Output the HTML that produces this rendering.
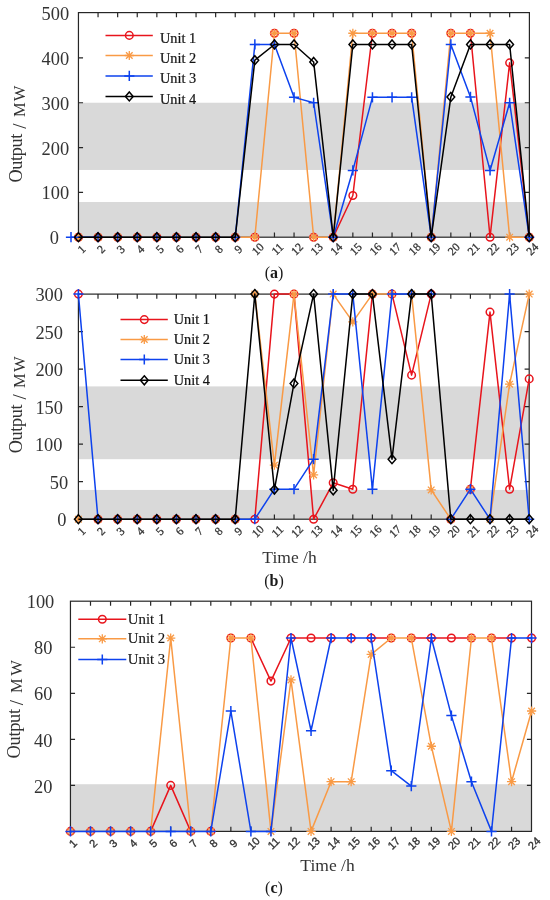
<!DOCTYPE html>
<html><head><meta charset="utf-8"><title>Unit output</title>
<style>
html,body{margin:0;padding:0;background:#fff;}
body{width:550px;height:900px;overflow:hidden;}
svg{display:block;font-family:'Liberation Serif', 'Times New Roman', serif;}
</style></head>
<body>
<svg width="550" height="900" viewBox="0 0 550 900">
<rect width="550" height="900" fill="#fff"/>
<rect x="78.45" y="102.74" width="450.95" height="67.23" fill="#d9d9d9"/>
<rect x="78.45" y="202.02" width="450.95" height="35.18" fill="#d9d9d9"/>
<path d="M98.05 237.2v-4.6M98.05 12.6v4.6M117.65 237.2v-4.6M117.65 12.6v4.6M137.25 237.2v-4.6M137.25 12.6v4.6M156.85 237.2v-4.6M156.85 12.6v4.6M176.45 237.2v-4.6M176.45 12.6v4.6M196.05 237.2v-4.6M196.05 12.6v4.6M215.65 237.2v-4.6M215.65 12.6v4.6M235.25 237.2v-4.6M235.25 12.6v4.6M254.85 237.2v-4.6M254.85 12.6v4.6M274.45 237.2v-4.6M274.45 12.6v4.6M294.05 237.2v-4.6M294.05 12.6v4.6M313.65 237.2v-4.6M313.65 12.6v4.6M333.25 237.2v-4.6M333.25 12.6v4.6M352.85 237.2v-4.6M352.85 12.6v4.6M372.45 237.2v-4.6M372.45 12.6v4.6M392.05 237.2v-4.6M392.05 12.6v4.6M411.65 237.2v-4.6M411.65 12.6v4.6M431.25 237.2v-4.6M431.25 12.6v4.6M450.85 237.2v-4.6M450.85 12.6v4.6M470.45 237.2v-4.6M470.45 12.6v4.6M490.05 237.2v-4.6M490.05 12.6v4.6M509.65 237.2v-4.6M509.65 12.6v4.6M78.45 192.38h4.6M529.4 192.38h-4.6M78.45 147.56h4.6M529.4 147.56h-4.6M78.45 102.74h4.6M529.4 102.74h-4.6M78.45 57.92h4.6M529.4 57.92h-4.6" stroke="#262626" stroke-width="1.2" fill="none"/>
<rect x="78.45" y="12.6" width="450.95" height="224.6" fill="none" stroke="#262626" stroke-width="1.2"/>
<path d="M333.25 237.2L352.85 195.52L372.45 33.27M470.45 33.27L490.05 237.2L509.65 62.85L529.25 237.2" fill="none" stroke="#e8141c" stroke-width="1.5" stroke-linejoin="round"/>
<circle cx="78.45" cy="237.2" r="3.8" fill="none" stroke="#e8141c" stroke-width="1.5"/><circle cx="98.05" cy="237.2" r="3.8" fill="none" stroke="#e8141c" stroke-width="1.5"/><circle cx="117.65" cy="237.2" r="3.8" fill="none" stroke="#e8141c" stroke-width="1.5"/><circle cx="137.25" cy="237.2" r="3.8" fill="none" stroke="#e8141c" stroke-width="1.5"/><circle cx="156.85" cy="237.2" r="3.8" fill="none" stroke="#e8141c" stroke-width="1.5"/><circle cx="176.45" cy="237.2" r="3.8" fill="none" stroke="#e8141c" stroke-width="1.5"/><circle cx="196.05" cy="237.2" r="3.8" fill="none" stroke="#e8141c" stroke-width="1.5"/><circle cx="215.65" cy="237.2" r="3.8" fill="none" stroke="#e8141c" stroke-width="1.5"/><circle cx="235.25" cy="237.2" r="3.8" fill="none" stroke="#e8141c" stroke-width="1.5"/><circle cx="254.85" cy="237.2" r="3.8" fill="none" stroke="#e8141c" stroke-width="1.5"/><circle cx="274.45" cy="33.27" r="3.8" fill="none" stroke="#e8141c" stroke-width="1.5"/><circle cx="294.05" cy="33.27" r="3.8" fill="none" stroke="#e8141c" stroke-width="1.5"/><circle cx="313.65" cy="237.2" r="3.8" fill="none" stroke="#e8141c" stroke-width="1.5"/><circle cx="333.25" cy="237.2" r="3.8" fill="none" stroke="#e8141c" stroke-width="1.5"/><circle cx="352.85" cy="195.52" r="3.8" fill="none" stroke="#e8141c" stroke-width="1.5"/><circle cx="372.45" cy="33.27" r="3.8" fill="none" stroke="#e8141c" stroke-width="1.5"/><circle cx="392.05" cy="33.27" r="3.8" fill="none" stroke="#e8141c" stroke-width="1.5"/><circle cx="411.65" cy="33.27" r="3.8" fill="none" stroke="#e8141c" stroke-width="1.5"/><circle cx="431.25" cy="237.2" r="3.8" fill="none" stroke="#e8141c" stroke-width="1.5"/><circle cx="450.85" cy="33.27" r="3.8" fill="none" stroke="#e8141c" stroke-width="1.5"/><circle cx="470.45" cy="33.27" r="3.8" fill="none" stroke="#e8141c" stroke-width="1.5"/><circle cx="490.05" cy="237.2" r="3.8" fill="none" stroke="#e8141c" stroke-width="1.5"/><circle cx="509.65" cy="62.85" r="3.8" fill="none" stroke="#e8141c" stroke-width="1.5"/><circle cx="529.25" cy="237.2" r="3.8" fill="none" stroke="#e8141c" stroke-width="1.5"/>
<path d="M235.25 237.2L254.85 237.2L274.45 33.27L294.05 33.27L313.65 237.2L333.25 237.2L352.85 33.27L372.45 33.27L392.05 33.27L411.65 33.27L431.25 237.2L450.85 33.27L470.45 33.27L490.05 33.27L509.65 237.2L529.25 237.2" fill="none" stroke="#f99a45" stroke-width="1.5" stroke-linejoin="round"/>
<path d="M78.45 232.6v9.2M73.85 237.2h9.2M75.15 233.9l6.6 6.6M75.15 240.5l6.6 -6.6" stroke="#f99a45" stroke-width="1.3" fill="none"/><path d="M98.05 232.6v9.2M93.45 237.2h9.2M94.75 233.9l6.6 6.6M94.75 240.5l6.6 -6.6" stroke="#f99a45" stroke-width="1.3" fill="none"/><path d="M117.65 232.6v9.2M113.05 237.2h9.2M114.35 233.9l6.6 6.6M114.35 240.5l6.6 -6.6" stroke="#f99a45" stroke-width="1.3" fill="none"/><path d="M137.25 232.6v9.2M132.65 237.2h9.2M133.95 233.9l6.6 6.6M133.95 240.5l6.6 -6.6" stroke="#f99a45" stroke-width="1.3" fill="none"/><path d="M156.85 232.6v9.2M152.25 237.2h9.2M153.55 233.9l6.6 6.6M153.55 240.5l6.6 -6.6" stroke="#f99a45" stroke-width="1.3" fill="none"/><path d="M176.45 232.6v9.2M171.85 237.2h9.2M173.15 233.9l6.6 6.6M173.15 240.5l6.6 -6.6" stroke="#f99a45" stroke-width="1.3" fill="none"/><path d="M196.05 232.6v9.2M191.45 237.2h9.2M192.75 233.9l6.6 6.6M192.75 240.5l6.6 -6.6" stroke="#f99a45" stroke-width="1.3" fill="none"/><path d="M215.65 232.6v9.2M211.05 237.2h9.2M212.35 233.9l6.6 6.6M212.35 240.5l6.6 -6.6" stroke="#f99a45" stroke-width="1.3" fill="none"/><path d="M235.25 232.6v9.2M230.65 237.2h9.2M231.95 233.9l6.6 6.6M231.95 240.5l6.6 -6.6" stroke="#f99a45" stroke-width="1.3" fill="none"/><path d="M254.85 232.6v9.2M250.25 237.2h9.2M251.55 233.9l6.6 6.6M251.55 240.5l6.6 -6.6" stroke="#f99a45" stroke-width="1.3" fill="none"/><path d="M274.45 28.67v9.2M269.85 33.27h9.2M271.15 29.97l6.6 6.6M271.15 36.57l6.6 -6.6" stroke="#f99a45" stroke-width="1.3" fill="none"/><path d="M294.05 28.67v9.2M289.45 33.27h9.2M290.75 29.97l6.6 6.6M290.75 36.57l6.6 -6.6" stroke="#f99a45" stroke-width="1.3" fill="none"/><path d="M313.65 232.6v9.2M309.05 237.2h9.2M310.35 233.9l6.6 6.6M310.35 240.5l6.6 -6.6" stroke="#f99a45" stroke-width="1.3" fill="none"/><path d="M333.25 232.6v9.2M328.65 237.2h9.2M329.95 233.9l6.6 6.6M329.95 240.5l6.6 -6.6" stroke="#f99a45" stroke-width="1.3" fill="none"/><path d="M352.85 28.67v9.2M348.25 33.27h9.2M349.55 29.97l6.6 6.6M349.55 36.57l6.6 -6.6" stroke="#f99a45" stroke-width="1.3" fill="none"/><path d="M372.45 28.67v9.2M367.85 33.27h9.2M369.15 29.97l6.6 6.6M369.15 36.57l6.6 -6.6" stroke="#f99a45" stroke-width="1.3" fill="none"/><path d="M392.05 28.67v9.2M387.45 33.27h9.2M388.75 29.97l6.6 6.6M388.75 36.57l6.6 -6.6" stroke="#f99a45" stroke-width="1.3" fill="none"/><path d="M411.65 28.67v9.2M407.05 33.27h9.2M408.35 29.97l6.6 6.6M408.35 36.57l6.6 -6.6" stroke="#f99a45" stroke-width="1.3" fill="none"/><path d="M431.25 232.6v9.2M426.65 237.2h9.2M427.95 233.9l6.6 6.6M427.95 240.5l6.6 -6.6" stroke="#f99a45" stroke-width="1.3" fill="none"/><path d="M450.85 28.67v9.2M446.25 33.27h9.2M447.55 29.97l6.6 6.6M447.55 36.57l6.6 -6.6" stroke="#f99a45" stroke-width="1.3" fill="none"/><path d="M470.45 28.67v9.2M465.85 33.27h9.2M467.15 29.97l6.6 6.6M467.15 36.57l6.6 -6.6" stroke="#f99a45" stroke-width="1.3" fill="none"/><path d="M490.05 28.67v9.2M485.45 33.27h9.2M486.75 29.97l6.6 6.6M486.75 36.57l6.6 -6.6" stroke="#f99a45" stroke-width="1.3" fill="none"/><path d="M509.65 232.6v9.2M505.05 237.2h9.2M506.35 233.9l6.6 6.6M506.35 240.5l6.6 -6.6" stroke="#f99a45" stroke-width="1.3" fill="none"/><path d="M529.25 232.6v9.2M524.65 237.2h9.2M525.95 233.9l6.6 6.6M525.95 240.5l6.6 -6.6" stroke="#f99a45" stroke-width="1.3" fill="none"/>
<path d="M71 237.2L98.05 237.2M235.25 237.2L254.85 44.47L274.45 44.47L294.05 97.36L313.65 102.74L333.25 237.2L352.85 170.42L372.45 97.36L392.05 97.36L411.65 97.36L431.25 237.2L450.85 44.47L470.45 96.91L490.05 170.42L509.65 102.74L529.25 237.2" fill="none" stroke="#0d42ee" stroke-width="1.5" stroke-linejoin="round"/>
<path d="M65.9 237.2h10.2M71 232.1v10.2" stroke="#0d42ee" stroke-width="1.5" fill="none"/><path d="M92.95 237.2h10.2M98.05 232.1v10.2" stroke="#0d42ee" stroke-width="1.5" fill="none"/><path d="M112.55 237.2h10.2M117.65 232.1v10.2" stroke="#0d42ee" stroke-width="1.5" fill="none"/><path d="M132.15 237.2h10.2M137.25 232.1v10.2" stroke="#0d42ee" stroke-width="1.5" fill="none"/><path d="M151.75 237.2h10.2M156.85 232.1v10.2" stroke="#0d42ee" stroke-width="1.5" fill="none"/><path d="M171.35 237.2h10.2M176.45 232.1v10.2" stroke="#0d42ee" stroke-width="1.5" fill="none"/><path d="M190.95 237.2h10.2M196.05 232.1v10.2" stroke="#0d42ee" stroke-width="1.5" fill="none"/><path d="M210.55 237.2h10.2M215.65 232.1v10.2" stroke="#0d42ee" stroke-width="1.5" fill="none"/><path d="M230.15 237.2h10.2M235.25 232.1v10.2" stroke="#0d42ee" stroke-width="1.5" fill="none"/><path d="M249.75 44.47h10.2M254.85 39.37v10.2" stroke="#0d42ee" stroke-width="1.5" fill="none"/><path d="M269.35 44.47h10.2M274.45 39.37v10.2" stroke="#0d42ee" stroke-width="1.5" fill="none"/><path d="M288.95 97.36h10.2M294.05 92.26v10.2" stroke="#0d42ee" stroke-width="1.5" fill="none"/><path d="M308.55 102.74h10.2M313.65 97.64v10.2" stroke="#0d42ee" stroke-width="1.5" fill="none"/><path d="M328.15 237.2h10.2M333.25 232.1v10.2" stroke="#0d42ee" stroke-width="1.5" fill="none"/><path d="M347.75 170.42h10.2M352.85 165.32v10.2" stroke="#0d42ee" stroke-width="1.5" fill="none"/><path d="M367.35 97.36h10.2M372.45 92.26v10.2" stroke="#0d42ee" stroke-width="1.5" fill="none"/><path d="M386.95 97.36h10.2M392.05 92.26v10.2" stroke="#0d42ee" stroke-width="1.5" fill="none"/><path d="M406.55 97.36h10.2M411.65 92.26v10.2" stroke="#0d42ee" stroke-width="1.5" fill="none"/><path d="M426.15 237.2h10.2M431.25 232.1v10.2" stroke="#0d42ee" stroke-width="1.5" fill="none"/><path d="M445.75 44.47h10.2M450.85 39.37v10.2" stroke="#0d42ee" stroke-width="1.5" fill="none"/><path d="M465.35 96.91h10.2M470.45 91.81v10.2" stroke="#0d42ee" stroke-width="1.5" fill="none"/><path d="M484.95 170.42h10.2M490.05 165.32v10.2" stroke="#0d42ee" stroke-width="1.5" fill="none"/><path d="M504.55 102.74h10.2M509.65 97.64v10.2" stroke="#0d42ee" stroke-width="1.5" fill="none"/><path d="M524.15 237.2h10.2M529.25 232.1v10.2" stroke="#0d42ee" stroke-width="1.5" fill="none"/>
<path d="M78.45 237.2L98.05 237.2L117.65 237.2L137.25 237.2L156.85 237.2L176.45 237.2L196.05 237.2L215.65 237.2L235.25 237.2L254.85 60.16L274.45 44.47L294.05 44.47L313.65 61.95L333.25 237.2L352.85 44.47L372.45 44.47L392.05 44.47L411.65 44.47L431.25 237.2L450.85 96.91L470.45 44.47L490.05 44.47L509.65 44.47L529.25 237.2" fill="none" stroke="#000000" stroke-width="1.5" stroke-linejoin="round"/>
<path d="M78.45 232.7L82.3 237.2L78.45 241.7L74.6 237.2Z" fill="none" stroke="#000000" stroke-width="1.5" stroke-linejoin="miter"/><path d="M98.05 232.7L101.9 237.2L98.05 241.7L94.2 237.2Z" fill="none" stroke="#000000" stroke-width="1.5" stroke-linejoin="miter"/><path d="M117.65 232.7L121.5 237.2L117.65 241.7L113.8 237.2Z" fill="none" stroke="#000000" stroke-width="1.5" stroke-linejoin="miter"/><path d="M137.25 232.7L141.1 237.2L137.25 241.7L133.4 237.2Z" fill="none" stroke="#000000" stroke-width="1.5" stroke-linejoin="miter"/><path d="M156.85 232.7L160.7 237.2L156.85 241.7L153 237.2Z" fill="none" stroke="#000000" stroke-width="1.5" stroke-linejoin="miter"/><path d="M176.45 232.7L180.3 237.2L176.45 241.7L172.6 237.2Z" fill="none" stroke="#000000" stroke-width="1.5" stroke-linejoin="miter"/><path d="M196.05 232.7L199.9 237.2L196.05 241.7L192.2 237.2Z" fill="none" stroke="#000000" stroke-width="1.5" stroke-linejoin="miter"/><path d="M215.65 232.7L219.5 237.2L215.65 241.7L211.8 237.2Z" fill="none" stroke="#000000" stroke-width="1.5" stroke-linejoin="miter"/><path d="M235.25 232.7L239.1 237.2L235.25 241.7L231.4 237.2Z" fill="none" stroke="#000000" stroke-width="1.5" stroke-linejoin="miter"/><path d="M254.85 55.66L258.7 60.16L254.85 64.66L251 60.16Z" fill="none" stroke="#000000" stroke-width="1.5" stroke-linejoin="miter"/><path d="M274.45 39.97L278.3 44.47L274.45 48.97L270.6 44.47Z" fill="none" stroke="#000000" stroke-width="1.5" stroke-linejoin="miter"/><path d="M294.05 39.97L297.9 44.47L294.05 48.97L290.2 44.47Z" fill="none" stroke="#000000" stroke-width="1.5" stroke-linejoin="miter"/><path d="M313.65 57.45L317.5 61.95L313.65 66.45L309.8 61.95Z" fill="none" stroke="#000000" stroke-width="1.5" stroke-linejoin="miter"/><path d="M333.25 232.7L337.1 237.2L333.25 241.7L329.4 237.2Z" fill="none" stroke="#000000" stroke-width="1.5" stroke-linejoin="miter"/><path d="M352.85 39.97L356.7 44.47L352.85 48.97L349 44.47Z" fill="none" stroke="#000000" stroke-width="1.5" stroke-linejoin="miter"/><path d="M372.45 39.97L376.3 44.47L372.45 48.97L368.6 44.47Z" fill="none" stroke="#000000" stroke-width="1.5" stroke-linejoin="miter"/><path d="M392.05 39.97L395.9 44.47L392.05 48.97L388.2 44.47Z" fill="none" stroke="#000000" stroke-width="1.5" stroke-linejoin="miter"/><path d="M411.65 39.97L415.5 44.47L411.65 48.97L407.8 44.47Z" fill="none" stroke="#000000" stroke-width="1.5" stroke-linejoin="miter"/><path d="M431.25 232.7L435.1 237.2L431.25 241.7L427.4 237.2Z" fill="none" stroke="#000000" stroke-width="1.5" stroke-linejoin="miter"/><path d="M450.85 92.41L454.7 96.91L450.85 101.41L447 96.91Z" fill="none" stroke="#000000" stroke-width="1.5" stroke-linejoin="miter"/><path d="M470.45 39.97L474.3 44.47L470.45 48.97L466.6 44.47Z" fill="none" stroke="#000000" stroke-width="1.5" stroke-linejoin="miter"/><path d="M490.05 39.97L493.9 44.47L490.05 48.97L486.2 44.47Z" fill="none" stroke="#000000" stroke-width="1.5" stroke-linejoin="miter"/><path d="M509.65 39.97L513.5 44.47L509.65 48.97L505.8 44.47Z" fill="none" stroke="#000000" stroke-width="1.5" stroke-linejoin="miter"/><path d="M529.25 232.7L533.1 237.2L529.25 241.7L525.4 237.2Z" fill="none" stroke="#000000" stroke-width="1.5" stroke-linejoin="miter"/>
<text x="58.9" y="244.2" text-anchor="end" font-size="18.4" fill="#333333">0</text>
<text x="69.2" y="199.38" text-anchor="end" font-size="18.4" fill="#333333">100</text>
<text x="69.2" y="154.56" text-anchor="end" font-size="18.4" fill="#333333">200</text>
<text x="69.2" y="109.74" text-anchor="end" font-size="18.4" fill="#333333">300</text>
<text x="69.2" y="64.92" text-anchor="end" font-size="18.4" fill="#333333">400</text>
<text x="69.2" y="20.1" text-anchor="end" font-size="18.4" fill="#333333">500</text>
<text transform="translate(81.75 249.4) rotate(-45)" text-anchor="middle" dominant-baseline="central" font-size="11.6" fill="#333333" stroke="#333333" stroke-width="0.3">1</text>
<text transform="translate(101.35 249.4) rotate(-45)" text-anchor="middle" dominant-baseline="central" font-size="11.6" fill="#333333" stroke="#333333" stroke-width="0.3">2</text>
<text transform="translate(120.95 249.4) rotate(-45)" text-anchor="middle" dominant-baseline="central" font-size="11.6" fill="#333333" stroke="#333333" stroke-width="0.3">3</text>
<text transform="translate(140.55 249.4) rotate(-45)" text-anchor="middle" dominant-baseline="central" font-size="11.6" fill="#333333" stroke="#333333" stroke-width="0.3">4</text>
<text transform="translate(160.15 249.4) rotate(-45)" text-anchor="middle" dominant-baseline="central" font-size="11.6" fill="#333333" stroke="#333333" stroke-width="0.3">5</text>
<text transform="translate(179.75 249.4) rotate(-45)" text-anchor="middle" dominant-baseline="central" font-size="11.6" fill="#333333" stroke="#333333" stroke-width="0.3">6</text>
<text transform="translate(199.35 249.4) rotate(-45)" text-anchor="middle" dominant-baseline="central" font-size="11.6" fill="#333333" stroke="#333333" stroke-width="0.3">7</text>
<text transform="translate(218.95 249.4) rotate(-45)" text-anchor="middle" dominant-baseline="central" font-size="11.6" fill="#333333" stroke="#333333" stroke-width="0.3">8</text>
<text transform="translate(238.55 249.4) rotate(-45)" text-anchor="middle" dominant-baseline="central" font-size="11.6" fill="#333333" stroke="#333333" stroke-width="0.3">9</text>
<text transform="translate(258.15 249.4) rotate(-45)" text-anchor="middle" dominant-baseline="central" font-size="11.6" fill="#333333" stroke="#333333" stroke-width="0.3">10</text>
<text transform="translate(277.75 249.4) rotate(-45)" text-anchor="middle" dominant-baseline="central" font-size="11.6" fill="#333333" stroke="#333333" stroke-width="0.3">11</text>
<text transform="translate(297.35 249.4) rotate(-45)" text-anchor="middle" dominant-baseline="central" font-size="11.6" fill="#333333" stroke="#333333" stroke-width="0.3">12</text>
<text transform="translate(316.95 249.4) rotate(-45)" text-anchor="middle" dominant-baseline="central" font-size="11.6" fill="#333333" stroke="#333333" stroke-width="0.3">13</text>
<text transform="translate(336.55 249.4) rotate(-45)" text-anchor="middle" dominant-baseline="central" font-size="11.6" fill="#333333" stroke="#333333" stroke-width="0.3">14</text>
<text transform="translate(356.15 249.4) rotate(-45)" text-anchor="middle" dominant-baseline="central" font-size="11.6" fill="#333333" stroke="#333333" stroke-width="0.3">15</text>
<text transform="translate(375.75 249.4) rotate(-45)" text-anchor="middle" dominant-baseline="central" font-size="11.6" fill="#333333" stroke="#333333" stroke-width="0.3">16</text>
<text transform="translate(395.35 249.4) rotate(-45)" text-anchor="middle" dominant-baseline="central" font-size="11.6" fill="#333333" stroke="#333333" stroke-width="0.3">17</text>
<text transform="translate(414.95 249.4) rotate(-45)" text-anchor="middle" dominant-baseline="central" font-size="11.6" fill="#333333" stroke="#333333" stroke-width="0.3">18</text>
<text transform="translate(434.55 249.4) rotate(-45)" text-anchor="middle" dominant-baseline="central" font-size="11.6" fill="#333333" stroke="#333333" stroke-width="0.3">19</text>
<text transform="translate(454.15 249.4) rotate(-45)" text-anchor="middle" dominant-baseline="central" font-size="11.6" fill="#333333" stroke="#333333" stroke-width="0.3">20</text>
<text transform="translate(473.75 249.4) rotate(-45)" text-anchor="middle" dominant-baseline="central" font-size="11.6" fill="#333333" stroke="#333333" stroke-width="0.3">21</text>
<text transform="translate(493.35 249.4) rotate(-45)" text-anchor="middle" dominant-baseline="central" font-size="11.6" fill="#333333" stroke="#333333" stroke-width="0.3">22</text>
<text transform="translate(512.95 249.4) rotate(-45)" text-anchor="middle" dominant-baseline="central" font-size="11.6" fill="#333333" stroke="#333333" stroke-width="0.3">23</text>
<text transform="translate(532.55 249.4) rotate(-45)" text-anchor="middle" dominant-baseline="central" font-size="11.6" fill="#333333" stroke="#333333" stroke-width="0.3">24</text>
<line x1="105.5" y1="35.4" x2="152.8" y2="35.4" stroke="#e8141c" stroke-width="1.5"/>
<circle cx="129.3" cy="35.4" r="3.8" fill="none" stroke="#e8141c" stroke-width="1.5"/>
<text x="160" y="42.6" font-size="14.3" fill="#141414" stroke="#141414" stroke-width="0.22">Unit 1</text>
<line x1="105.5" y1="55.5" x2="152.8" y2="55.5" stroke="#f99a45" stroke-width="1.5"/>
<path d="M129.3 50.9v9.2M124.7 55.5h9.2M126 52.2l6.6 6.6M126 58.8l6.6 -6.6" stroke="#f99a45" stroke-width="1.3" fill="none"/>
<text x="160" y="62.7" font-size="14.3" fill="#141414" stroke="#141414" stroke-width="0.22">Unit 2</text>
<line x1="105.5" y1="75.9" x2="152.8" y2="75.9" stroke="#0d42ee" stroke-width="1.5"/>
<path d="M124.2 75.9h10.2M129.3 70.8v10.2" stroke="#0d42ee" stroke-width="1.5" fill="none"/>
<text x="160" y="83.1" font-size="14.3" fill="#141414" stroke="#141414" stroke-width="0.22">Unit 3</text>
<line x1="105.5" y1="96.4" x2="152.8" y2="96.4" stroke="#000000" stroke-width="1.5"/>
<path d="M129.3 91.9L133.15 96.4L129.3 100.9L125.45 96.4Z" fill="none" stroke="#000000" stroke-width="1.5" stroke-linejoin="miter"/>
<text x="160" y="103.6" font-size="14.3" fill="#141414" stroke="#141414" stroke-width="0.22">Unit 4</text>
<text transform="translate(22 182.5) rotate(-90)" font-size="18.2" fill="#333333"><tspan letter-spacing="-0.35">Output</tspan><tspan dx="5.3" dy="3.6" font-size="19">/</tspan><tspan dx="6.4" dy="-1" font-size="16.6">M</tspan><tspan dx="1.2" font-size="16.6">W</tspan></text>
<rect x="78.4" y="386.4" width="450.8" height="72.78" fill="#d9d9d9"/>
<rect x="78.4" y="489.94" width="450.8" height="29.26" fill="#d9d9d9"/>
<path d="M98 519.2v-4.6M98 294.1v4.6M117.6 519.2v-4.6M117.6 294.1v4.6M137.2 519.2v-4.6M137.2 294.1v4.6M156.8 519.2v-4.6M156.8 294.1v4.6M176.4 519.2v-4.6M176.4 294.1v4.6M196 519.2v-4.6M196 294.1v4.6M215.6 519.2v-4.6M215.6 294.1v4.6M235.2 519.2v-4.6M235.2 294.1v4.6M254.8 519.2v-4.6M254.8 294.1v4.6M274.4 519.2v-4.6M274.4 294.1v4.6M294 519.2v-4.6M294 294.1v4.6M313.6 519.2v-4.6M313.6 294.1v4.6M333.2 519.2v-4.6M333.2 294.1v4.6M352.8 519.2v-4.6M352.8 294.1v4.6M372.4 519.2v-4.6M372.4 294.1v4.6M392 519.2v-4.6M392 294.1v4.6M411.6 519.2v-4.6M411.6 294.1v4.6M431.2 519.2v-4.6M431.2 294.1v4.6M450.8 519.2v-4.6M450.8 294.1v4.6M470.4 519.2v-4.6M470.4 294.1v4.6M490 519.2v-4.6M490 294.1v4.6M509.6 519.2v-4.6M509.6 294.1v4.6M78.4 481.69h4.6M529.2 481.69h-4.6M78.4 444.17h4.6M529.2 444.17h-4.6M78.4 406.66h4.6M529.2 406.66h-4.6M78.4 369.14h4.6M529.2 369.14h-4.6M78.4 331.63h4.6M529.2 331.63h-4.6" stroke="#262626" stroke-width="1.2" fill="none"/>
<rect x="78.4" y="294.1" width="450.8" height="225.1" fill="none" stroke="#262626" stroke-width="1.2"/>
<path d="M254.8 519.2L274.4 294.11L294 294.11L313.6 519.2L333.2 482.81L352.8 489.19L372.4 294.11M392 294.11L411.6 375.14L431.2 294.11M470.4 489.19L490 312.12L509.6 489.19L529.2 378.89" fill="none" stroke="#e8141c" stroke-width="1.5" stroke-linejoin="round"/>
<circle cx="78.4" cy="294.11" r="3.8" fill="none" stroke="#e8141c" stroke-width="1.5"/><circle cx="98" cy="519.2" r="3.8" fill="none" stroke="#e8141c" stroke-width="1.5"/><circle cx="117.6" cy="519.2" r="3.8" fill="none" stroke="#e8141c" stroke-width="1.5"/><circle cx="137.2" cy="519.2" r="3.8" fill="none" stroke="#e8141c" stroke-width="1.5"/><circle cx="156.8" cy="519.2" r="3.8" fill="none" stroke="#e8141c" stroke-width="1.5"/><circle cx="176.4" cy="519.2" r="3.8" fill="none" stroke="#e8141c" stroke-width="1.5"/><circle cx="196" cy="519.2" r="3.8" fill="none" stroke="#e8141c" stroke-width="1.5"/><circle cx="215.6" cy="519.2" r="3.8" fill="none" stroke="#e8141c" stroke-width="1.5"/><circle cx="235.2" cy="519.2" r="3.8" fill="none" stroke="#e8141c" stroke-width="1.5"/><circle cx="254.8" cy="519.2" r="3.8" fill="none" stroke="#e8141c" stroke-width="1.5"/><circle cx="274.4" cy="294.11" r="3.8" fill="none" stroke="#e8141c" stroke-width="1.5"/><circle cx="294" cy="294.11" r="3.8" fill="none" stroke="#e8141c" stroke-width="1.5"/><circle cx="313.6" cy="519.2" r="3.8" fill="none" stroke="#e8141c" stroke-width="1.5"/><circle cx="333.2" cy="482.81" r="3.8" fill="none" stroke="#e8141c" stroke-width="1.5"/><circle cx="352.8" cy="489.19" r="3.8" fill="none" stroke="#e8141c" stroke-width="1.5"/><circle cx="372.4" cy="294.11" r="3.8" fill="none" stroke="#e8141c" stroke-width="1.5"/><circle cx="392" cy="294.11" r="3.8" fill="none" stroke="#e8141c" stroke-width="1.5"/><circle cx="411.6" cy="375.14" r="3.8" fill="none" stroke="#e8141c" stroke-width="1.5"/><circle cx="431.2" cy="294.11" r="3.8" fill="none" stroke="#e8141c" stroke-width="1.5"/><circle cx="450.8" cy="519.2" r="3.8" fill="none" stroke="#e8141c" stroke-width="1.5"/><circle cx="470.4" cy="489.19" r="3.8" fill="none" stroke="#e8141c" stroke-width="1.5"/><circle cx="490" cy="312.12" r="3.8" fill="none" stroke="#e8141c" stroke-width="1.5"/><circle cx="509.6" cy="489.19" r="3.8" fill="none" stroke="#e8141c" stroke-width="1.5"/><circle cx="529.2" cy="378.89" r="3.8" fill="none" stroke="#e8141c" stroke-width="1.5"/>
<path d="M254.8 294.11L274.4 465.18L294 294.11L313.6 474.93L333.2 294.11L352.8 321.87L372.4 294.11L392 294.11M411.6 294.11L431.2 489.94L450.8 519.2M490 519.2L509.6 384.15L529.2 294.11" fill="none" stroke="#f99a45" stroke-width="1.5" stroke-linejoin="round"/>
<path d="M78.4 514.6v9.2M73.8 519.2h9.2M75.1 515.9l6.6 6.6M75.1 522.5l6.6 -6.6" stroke="#f99a45" stroke-width="1.3" fill="none"/><path d="M98 514.6v9.2M93.4 519.2h9.2M94.7 515.9l6.6 6.6M94.7 522.5l6.6 -6.6" stroke="#f99a45" stroke-width="1.3" fill="none"/><path d="M117.6 514.6v9.2M113 519.2h9.2M114.3 515.9l6.6 6.6M114.3 522.5l6.6 -6.6" stroke="#f99a45" stroke-width="1.3" fill="none"/><path d="M137.2 514.6v9.2M132.6 519.2h9.2M133.9 515.9l6.6 6.6M133.9 522.5l6.6 -6.6" stroke="#f99a45" stroke-width="1.3" fill="none"/><path d="M156.8 514.6v9.2M152.2 519.2h9.2M153.5 515.9l6.6 6.6M153.5 522.5l6.6 -6.6" stroke="#f99a45" stroke-width="1.3" fill="none"/><path d="M176.4 514.6v9.2M171.8 519.2h9.2M173.1 515.9l6.6 6.6M173.1 522.5l6.6 -6.6" stroke="#f99a45" stroke-width="1.3" fill="none"/><path d="M196 514.6v9.2M191.4 519.2h9.2M192.7 515.9l6.6 6.6M192.7 522.5l6.6 -6.6" stroke="#f99a45" stroke-width="1.3" fill="none"/><path d="M215.6 514.6v9.2M211 519.2h9.2M212.3 515.9l6.6 6.6M212.3 522.5l6.6 -6.6" stroke="#f99a45" stroke-width="1.3" fill="none"/><path d="M235.2 514.6v9.2M230.6 519.2h9.2M231.9 515.9l6.6 6.6M231.9 522.5l6.6 -6.6" stroke="#f99a45" stroke-width="1.3" fill="none"/><path d="M254.8 289.51v9.2M250.2 294.11h9.2M251.5 290.81l6.6 6.6M251.5 297.41l6.6 -6.6" stroke="#f99a45" stroke-width="1.3" fill="none"/><path d="M274.4 460.58v9.2M269.8 465.18h9.2M271.1 461.88l6.6 6.6M271.1 468.48l6.6 -6.6" stroke="#f99a45" stroke-width="1.3" fill="none"/><path d="M294 289.51v9.2M289.4 294.11h9.2M290.7 290.81l6.6 6.6M290.7 297.41l6.6 -6.6" stroke="#f99a45" stroke-width="1.3" fill="none"/><path d="M313.6 470.33v9.2M309 474.93h9.2M310.3 471.63l6.6 6.6M310.3 478.23l6.6 -6.6" stroke="#f99a45" stroke-width="1.3" fill="none"/><path d="M333.2 289.51v9.2M328.6 294.11h9.2M329.9 290.81l6.6 6.6M329.9 297.41l6.6 -6.6" stroke="#f99a45" stroke-width="1.3" fill="none"/><path d="M352.8 317.27v9.2M348.2 321.87h9.2M349.5 318.57l6.6 6.6M349.5 325.17l6.6 -6.6" stroke="#f99a45" stroke-width="1.3" fill="none"/><path d="M372.4 289.51v9.2M367.8 294.11h9.2M369.1 290.81l6.6 6.6M369.1 297.41l6.6 -6.6" stroke="#f99a45" stroke-width="1.3" fill="none"/><path d="M392 289.51v9.2M387.4 294.11h9.2M388.7 290.81l6.6 6.6M388.7 297.41l6.6 -6.6" stroke="#f99a45" stroke-width="1.3" fill="none"/><path d="M411.6 289.51v9.2M407 294.11h9.2M408.3 290.81l6.6 6.6M408.3 297.41l6.6 -6.6" stroke="#f99a45" stroke-width="1.3" fill="none"/><path d="M431.2 485.34v9.2M426.6 489.94h9.2M427.9 486.64l6.6 6.6M427.9 493.24l6.6 -6.6" stroke="#f99a45" stroke-width="1.3" fill="none"/><path d="M450.8 514.6v9.2M446.2 519.2h9.2M447.5 515.9l6.6 6.6M447.5 522.5l6.6 -6.6" stroke="#f99a45" stroke-width="1.3" fill="none"/><path d="M470.4 484.59v9.2M465.8 489.19h9.2M467.1 485.89l6.6 6.6M467.1 492.49l6.6 -6.6" stroke="#f99a45" stroke-width="1.3" fill="none"/><path d="M490 514.6v9.2M485.4 519.2h9.2M486.7 515.9l6.6 6.6M486.7 522.5l6.6 -6.6" stroke="#f99a45" stroke-width="1.3" fill="none"/><path d="M509.6 379.55v9.2M505 384.15h9.2M506.3 380.85l6.6 6.6M506.3 387.45l6.6 -6.6" stroke="#f99a45" stroke-width="1.3" fill="none"/><path d="M529.2 289.51v9.2M524.6 294.11h9.2M525.9 290.81l6.6 6.6M525.9 297.41l6.6 -6.6" stroke="#f99a45" stroke-width="1.3" fill="none"/>
<path d="M78.4 294.11L98 519.2M235.2 519.2L254.8 519.2L274.4 489.19L294 489.19L313.6 459.18L333.2 294.11L352.8 294.11L372.4 489.19L392 294.11L411.6 294.11M450.8 519.2L470.4 489.19L490 519.2L509.6 294.11L529.2 519.2" fill="none" stroke="#0d42ee" stroke-width="1.5" stroke-linejoin="round"/>
<path d="M73.3 294.11h10.2M78.4 289.01v10.2" stroke="#0d42ee" stroke-width="1.5" fill="none"/><path d="M92.9 519.2h10.2M98 514.1v10.2" stroke="#0d42ee" stroke-width="1.5" fill="none"/><path d="M112.5 519.2h10.2M117.6 514.1v10.2" stroke="#0d42ee" stroke-width="1.5" fill="none"/><path d="M132.1 519.2h10.2M137.2 514.1v10.2" stroke="#0d42ee" stroke-width="1.5" fill="none"/><path d="M151.7 519.2h10.2M156.8 514.1v10.2" stroke="#0d42ee" stroke-width="1.5" fill="none"/><path d="M171.3 519.2h10.2M176.4 514.1v10.2" stroke="#0d42ee" stroke-width="1.5" fill="none"/><path d="M190.9 519.2h10.2M196 514.1v10.2" stroke="#0d42ee" stroke-width="1.5" fill="none"/><path d="M210.5 519.2h10.2M215.6 514.1v10.2" stroke="#0d42ee" stroke-width="1.5" fill="none"/><path d="M230.1 519.2h10.2M235.2 514.1v10.2" stroke="#0d42ee" stroke-width="1.5" fill="none"/><path d="M249.7 519.2h10.2M254.8 514.1v10.2" stroke="#0d42ee" stroke-width="1.5" fill="none"/><path d="M269.3 489.19h10.2M274.4 484.09v10.2" stroke="#0d42ee" stroke-width="1.5" fill="none"/><path d="M288.9 489.19h10.2M294 484.09v10.2" stroke="#0d42ee" stroke-width="1.5" fill="none"/><path d="M308.5 459.18h10.2M313.6 454.08v10.2" stroke="#0d42ee" stroke-width="1.5" fill="none"/><path d="M328.1 294.11h10.2M333.2 289.01v10.2" stroke="#0d42ee" stroke-width="1.5" fill="none"/><path d="M347.7 294.11h10.2M352.8 289.01v10.2" stroke="#0d42ee" stroke-width="1.5" fill="none"/><path d="M367.3 489.19h10.2M372.4 484.09v10.2" stroke="#0d42ee" stroke-width="1.5" fill="none"/><path d="M386.9 294.11h10.2M392 289.01v10.2" stroke="#0d42ee" stroke-width="1.5" fill="none"/><path d="M406.5 294.11h10.2M411.6 289.01v10.2" stroke="#0d42ee" stroke-width="1.5" fill="none"/><path d="M426.1 294.11h10.2M431.2 289.01v10.2" stroke="#0d42ee" stroke-width="1.5" fill="none"/><path d="M445.7 519.2h10.2M450.8 514.1v10.2" stroke="#0d42ee" stroke-width="1.5" fill="none"/><path d="M465.3 489.19h10.2M470.4 484.09v10.2" stroke="#0d42ee" stroke-width="1.5" fill="none"/><path d="M484.9 519.2h10.2M490 514.1v10.2" stroke="#0d42ee" stroke-width="1.5" fill="none"/><path d="M504.5 294.11h10.2M509.6 289.01v10.2" stroke="#0d42ee" stroke-width="1.5" fill="none"/><path d="M524.1 519.2h10.2M529.2 514.1v10.2" stroke="#0d42ee" stroke-width="1.5" fill="none"/>
<path d="M78.4 519.2L98 519.2L117.6 519.2L137.2 519.2L156.8 519.2L176.4 519.2L196 519.2L215.6 519.2L235.2 519.2L254.8 294.11L274.4 489.56L294 383.4L313.6 294.11L333.2 490.31L352.8 294.11L372.4 294.11L392 459.18L411.6 294.11L431.2 294.11L450.8 519.2L470.4 519.2L490 519.2L509.6 519.2L529.2 519.2" fill="none" stroke="#000000" stroke-width="1.5" stroke-linejoin="round"/>
<path d="M78.4 514.7L82.25 519.2L78.4 523.7L74.55 519.2Z" fill="none" stroke="#000000" stroke-width="1.5" stroke-linejoin="miter"/><path d="M98 514.7L101.85 519.2L98 523.7L94.15 519.2Z" fill="none" stroke="#000000" stroke-width="1.5" stroke-linejoin="miter"/><path d="M117.6 514.7L121.45 519.2L117.6 523.7L113.75 519.2Z" fill="none" stroke="#000000" stroke-width="1.5" stroke-linejoin="miter"/><path d="M137.2 514.7L141.05 519.2L137.2 523.7L133.35 519.2Z" fill="none" stroke="#000000" stroke-width="1.5" stroke-linejoin="miter"/><path d="M156.8 514.7L160.65 519.2L156.8 523.7L152.95 519.2Z" fill="none" stroke="#000000" stroke-width="1.5" stroke-linejoin="miter"/><path d="M176.4 514.7L180.25 519.2L176.4 523.7L172.55 519.2Z" fill="none" stroke="#000000" stroke-width="1.5" stroke-linejoin="miter"/><path d="M196 514.7L199.85 519.2L196 523.7L192.15 519.2Z" fill="none" stroke="#000000" stroke-width="1.5" stroke-linejoin="miter"/><path d="M215.6 514.7L219.45 519.2L215.6 523.7L211.75 519.2Z" fill="none" stroke="#000000" stroke-width="1.5" stroke-linejoin="miter"/><path d="M235.2 514.7L239.05 519.2L235.2 523.7L231.35 519.2Z" fill="none" stroke="#000000" stroke-width="1.5" stroke-linejoin="miter"/><path d="M254.8 289.61L258.65 294.11L254.8 298.61L250.95 294.11Z" fill="none" stroke="#000000" stroke-width="1.5" stroke-linejoin="miter"/><path d="M274.4 485.06L278.25 489.56L274.4 494.06L270.55 489.56Z" fill="none" stroke="#000000" stroke-width="1.5" stroke-linejoin="miter"/><path d="M294 378.9L297.85 383.4L294 387.9L290.15 383.4Z" fill="none" stroke="#000000" stroke-width="1.5" stroke-linejoin="miter"/><path d="M313.6 289.61L317.45 294.11L313.6 298.61L309.75 294.11Z" fill="none" stroke="#000000" stroke-width="1.5" stroke-linejoin="miter"/><path d="M333.2 485.81L337.05 490.31L333.2 494.81L329.35 490.31Z" fill="none" stroke="#000000" stroke-width="1.5" stroke-linejoin="miter"/><path d="M352.8 289.61L356.65 294.11L352.8 298.61L348.95 294.11Z" fill="none" stroke="#000000" stroke-width="1.5" stroke-linejoin="miter"/><path d="M372.4 289.61L376.25 294.11L372.4 298.61L368.55 294.11Z" fill="none" stroke="#000000" stroke-width="1.5" stroke-linejoin="miter"/><path d="M392 454.68L395.85 459.18L392 463.68L388.15 459.18Z" fill="none" stroke="#000000" stroke-width="1.5" stroke-linejoin="miter"/><path d="M411.6 289.61L415.45 294.11L411.6 298.61L407.75 294.11Z" fill="none" stroke="#000000" stroke-width="1.5" stroke-linejoin="miter"/><path d="M431.2 289.61L435.05 294.11L431.2 298.61L427.35 294.11Z" fill="none" stroke="#000000" stroke-width="1.5" stroke-linejoin="miter"/><path d="M450.8 514.7L454.65 519.2L450.8 523.7L446.95 519.2Z" fill="none" stroke="#000000" stroke-width="1.5" stroke-linejoin="miter"/><path d="M470.4 514.7L474.25 519.2L470.4 523.7L466.55 519.2Z" fill="none" stroke="#000000" stroke-width="1.5" stroke-linejoin="miter"/><path d="M490 514.7L493.85 519.2L490 523.7L486.15 519.2Z" fill="none" stroke="#000000" stroke-width="1.5" stroke-linejoin="miter"/><path d="M509.6 514.7L513.45 519.2L509.6 523.7L505.75 519.2Z" fill="none" stroke="#000000" stroke-width="1.5" stroke-linejoin="miter"/><path d="M529.2 514.7L533.05 519.2L529.2 523.7L525.35 519.2Z" fill="none" stroke="#000000" stroke-width="1.5" stroke-linejoin="miter"/>
<text x="66.4" y="526.2" text-anchor="end" font-size="18.4" fill="#333333">0</text>
<text x="68.1" y="488.69" text-anchor="end" font-size="18.4" fill="#333333">50</text>
<text x="62.5" y="451.17" text-anchor="end" font-size="18.4" fill="#333333">100</text>
<text x="63" y="413.66" text-anchor="end" font-size="18.4" fill="#333333">150</text>
<text x="63" y="376.14" text-anchor="end" font-size="18.4" fill="#333333">200</text>
<text x="63" y="338.63" text-anchor="end" font-size="18.4" fill="#333333">250</text>
<text x="63" y="301.11" text-anchor="end" font-size="18.4" fill="#333333">300</text>
<text transform="translate(81.7 531.6) rotate(-45)" text-anchor="middle" dominant-baseline="central" font-size="11.6" fill="#333333" stroke="#333333" stroke-width="0.3">1</text>
<text transform="translate(101.3 531.6) rotate(-45)" text-anchor="middle" dominant-baseline="central" font-size="11.6" fill="#333333" stroke="#333333" stroke-width="0.3">2</text>
<text transform="translate(120.9 531.6) rotate(-45)" text-anchor="middle" dominant-baseline="central" font-size="11.6" fill="#333333" stroke="#333333" stroke-width="0.3">3</text>
<text transform="translate(140.5 531.6) rotate(-45)" text-anchor="middle" dominant-baseline="central" font-size="11.6" fill="#333333" stroke="#333333" stroke-width="0.3">4</text>
<text transform="translate(160.1 531.6) rotate(-45)" text-anchor="middle" dominant-baseline="central" font-size="11.6" fill="#333333" stroke="#333333" stroke-width="0.3">5</text>
<text transform="translate(179.7 531.6) rotate(-45)" text-anchor="middle" dominant-baseline="central" font-size="11.6" fill="#333333" stroke="#333333" stroke-width="0.3">6</text>
<text transform="translate(199.3 531.6) rotate(-45)" text-anchor="middle" dominant-baseline="central" font-size="11.6" fill="#333333" stroke="#333333" stroke-width="0.3">7</text>
<text transform="translate(218.9 531.6) rotate(-45)" text-anchor="middle" dominant-baseline="central" font-size="11.6" fill="#333333" stroke="#333333" stroke-width="0.3">8</text>
<text transform="translate(238.5 531.6) rotate(-45)" text-anchor="middle" dominant-baseline="central" font-size="11.6" fill="#333333" stroke="#333333" stroke-width="0.3">9</text>
<text transform="translate(258.1 531.6) rotate(-45)" text-anchor="middle" dominant-baseline="central" font-size="11.6" fill="#333333" stroke="#333333" stroke-width="0.3">10</text>
<text transform="translate(277.7 531.6) rotate(-45)" text-anchor="middle" dominant-baseline="central" font-size="11.6" fill="#333333" stroke="#333333" stroke-width="0.3">11</text>
<text transform="translate(297.3 531.6) rotate(-45)" text-anchor="middle" dominant-baseline="central" font-size="11.6" fill="#333333" stroke="#333333" stroke-width="0.3">12</text>
<text transform="translate(316.9 531.6) rotate(-45)" text-anchor="middle" dominant-baseline="central" font-size="11.6" fill="#333333" stroke="#333333" stroke-width="0.3">13</text>
<text transform="translate(336.5 531.6) rotate(-45)" text-anchor="middle" dominant-baseline="central" font-size="11.6" fill="#333333" stroke="#333333" stroke-width="0.3">14</text>
<text transform="translate(356.1 531.6) rotate(-45)" text-anchor="middle" dominant-baseline="central" font-size="11.6" fill="#333333" stroke="#333333" stroke-width="0.3">15</text>
<text transform="translate(375.7 531.6) rotate(-45)" text-anchor="middle" dominant-baseline="central" font-size="11.6" fill="#333333" stroke="#333333" stroke-width="0.3">16</text>
<text transform="translate(395.3 531.6) rotate(-45)" text-anchor="middle" dominant-baseline="central" font-size="11.6" fill="#333333" stroke="#333333" stroke-width="0.3">17</text>
<text transform="translate(414.9 531.6) rotate(-45)" text-anchor="middle" dominant-baseline="central" font-size="11.6" fill="#333333" stroke="#333333" stroke-width="0.3">18</text>
<text transform="translate(434.5 531.6) rotate(-45)" text-anchor="middle" dominant-baseline="central" font-size="11.6" fill="#333333" stroke="#333333" stroke-width="0.3">19</text>
<text transform="translate(454.1 531.6) rotate(-45)" text-anchor="middle" dominant-baseline="central" font-size="11.6" fill="#333333" stroke="#333333" stroke-width="0.3">20</text>
<text transform="translate(473.7 531.6) rotate(-45)" text-anchor="middle" dominant-baseline="central" font-size="11.6" fill="#333333" stroke="#333333" stroke-width="0.3">21</text>
<text transform="translate(493.3 531.6) rotate(-45)" text-anchor="middle" dominant-baseline="central" font-size="11.6" fill="#333333" stroke="#333333" stroke-width="0.3">22</text>
<text transform="translate(512.9 531.6) rotate(-45)" text-anchor="middle" dominant-baseline="central" font-size="11.6" fill="#333333" stroke="#333333" stroke-width="0.3">23</text>
<text transform="translate(532.5 531.6) rotate(-45)" text-anchor="middle" dominant-baseline="central" font-size="11.6" fill="#333333" stroke="#333333" stroke-width="0.3">24</text>
<line x1="120.5" y1="319.6" x2="167.8" y2="319.6" stroke="#e8141c" stroke-width="1.5"/>
<circle cx="144.3" cy="319.6" r="3.8" fill="none" stroke="#e8141c" stroke-width="1.5"/>
<text x="173.7" y="324" font-size="14.3" fill="#141414" stroke="#141414" stroke-width="0.22">Unit 1</text>
<line x1="120.5" y1="339.5" x2="167.8" y2="339.5" stroke="#f99a45" stroke-width="1.5"/>
<path d="M144.3 334.9v9.2M139.7 339.5h9.2M141 336.2l6.6 6.6M141 342.8l6.6 -6.6" stroke="#f99a45" stroke-width="1.3" fill="none"/>
<text x="173.7" y="343.9" font-size="14.3" fill="#141414" stroke="#141414" stroke-width="0.22">Unit 2</text>
<line x1="120.5" y1="359.5" x2="167.8" y2="359.5" stroke="#0d42ee" stroke-width="1.5"/>
<path d="M139.2 359.5h10.2M144.3 354.4v10.2" stroke="#0d42ee" stroke-width="1.5" fill="none"/>
<text x="173.7" y="363.9" font-size="14.3" fill="#141414" stroke="#141414" stroke-width="0.22">Unit 3</text>
<line x1="120.5" y1="380.3" x2="167.8" y2="380.3" stroke="#000000" stroke-width="1.5"/>
<path d="M144.3 375.8L148.15 380.3L144.3 384.8L140.45 380.3Z" fill="none" stroke="#000000" stroke-width="1.5" stroke-linejoin="miter"/>
<text x="173.7" y="384.7" font-size="14.3" fill="#141414" stroke="#141414" stroke-width="0.22">Unit 4</text>
<text transform="translate(22 453.3) rotate(-90)" font-size="18.2" fill="#333333"><tspan letter-spacing="-0.35">Output</tspan><tspan dx="5.3" dy="3.6" font-size="19">/</tspan><tspan dx="6.4" dy="-1" font-size="16.6">M</tspan><tspan dx="1.2" font-size="16.6">W</tspan></text>
<rect x="70.45" y="784.21" width="461.05" height="47.19" fill="#d9d9d9"/>
<path d="M90.5 831.4v-4.6M90.5 601.2v4.6M110.55 831.4v-4.6M110.55 601.2v4.6M130.6 831.4v-4.6M130.6 601.2v4.6M150.65 831.4v-4.6M150.65 601.2v4.6M170.7 831.4v-4.6M170.7 601.2v4.6M190.75 831.4v-4.6M190.75 601.2v4.6M210.8 831.4v-4.6M210.8 601.2v4.6M230.85 831.4v-4.6M230.85 601.2v4.6M250.9 831.4v-4.6M250.9 601.2v4.6M270.95 831.4v-4.6M270.95 601.2v4.6M291 831.4v-4.6M291 601.2v4.6M311.05 831.4v-4.6M311.05 601.2v4.6M331.1 831.4v-4.6M331.1 601.2v4.6M351.15 831.4v-4.6M351.15 601.2v4.6M371.2 831.4v-4.6M371.2 601.2v4.6M391.25 831.4v-4.6M391.25 601.2v4.6M411.3 831.4v-4.6M411.3 601.2v4.6M431.35 831.4v-4.6M431.35 601.2v4.6M451.4 831.4v-4.6M451.4 601.2v4.6M471.45 831.4v-4.6M471.45 601.2v4.6M491.5 831.4v-4.6M491.5 601.2v4.6M511.55 831.4v-4.6M511.55 601.2v4.6M70.45 785.36h4.6M531.5 785.36h-4.6M70.45 739.32h4.6M531.5 739.32h-4.6M70.45 693.28h4.6M531.5 693.28h-4.6M70.45 647.24h4.6M531.5 647.24h-4.6" stroke="#262626" stroke-width="1.2" fill="none"/>
<rect x="70.45" y="601.2" width="461.05" height="230.2" fill="none" stroke="#262626" stroke-width="1.2"/>
<path d="M150.65 831.4L170.7 785.36L190.75 831.4M250.9 638.03L270.95 681.08L291 638.03L311.05 638.03L331.1 638.03M371.2 638.03L391.25 638.03M411.3 638.03L431.35 638.03L451.4 638.03L471.45 638.03M491.5 638.03L511.55 638.03" fill="none" stroke="#e8141c" stroke-width="1.5" stroke-linejoin="round"/>
<circle cx="70.45" cy="831.4" r="3.8" fill="none" stroke="#e8141c" stroke-width="1.5"/><circle cx="90.5" cy="831.4" r="3.8" fill="none" stroke="#e8141c" stroke-width="1.5"/><circle cx="110.55" cy="831.4" r="3.8" fill="none" stroke="#e8141c" stroke-width="1.5"/><circle cx="130.6" cy="831.4" r="3.8" fill="none" stroke="#e8141c" stroke-width="1.5"/><circle cx="150.65" cy="831.4" r="3.8" fill="none" stroke="#e8141c" stroke-width="1.5"/><circle cx="170.7" cy="785.36" r="3.8" fill="none" stroke="#e8141c" stroke-width="1.5"/><circle cx="190.75" cy="831.4" r="3.8" fill="none" stroke="#e8141c" stroke-width="1.5"/><circle cx="210.8" cy="831.4" r="3.8" fill="none" stroke="#e8141c" stroke-width="1.5"/><circle cx="230.85" cy="638.03" r="3.8" fill="none" stroke="#e8141c" stroke-width="1.5"/><circle cx="250.9" cy="638.03" r="3.8" fill="none" stroke="#e8141c" stroke-width="1.5"/><circle cx="270.95" cy="681.08" r="3.8" fill="none" stroke="#e8141c" stroke-width="1.5"/><circle cx="291" cy="638.03" r="3.8" fill="none" stroke="#e8141c" stroke-width="1.5"/><circle cx="311.05" cy="638.03" r="3.8" fill="none" stroke="#e8141c" stroke-width="1.5"/><circle cx="331.1" cy="638.03" r="3.8" fill="none" stroke="#e8141c" stroke-width="1.5"/><circle cx="351.15" cy="638.03" r="3.8" fill="none" stroke="#e8141c" stroke-width="1.5"/><circle cx="371.2" cy="638.03" r="3.8" fill="none" stroke="#e8141c" stroke-width="1.5"/><circle cx="391.25" cy="638.03" r="3.8" fill="none" stroke="#e8141c" stroke-width="1.5"/><circle cx="411.3" cy="638.03" r="3.8" fill="none" stroke="#e8141c" stroke-width="1.5"/><circle cx="431.35" cy="638.03" r="3.8" fill="none" stroke="#e8141c" stroke-width="1.5"/><circle cx="451.4" cy="638.03" r="3.8" fill="none" stroke="#e8141c" stroke-width="1.5"/><circle cx="471.45" cy="638.03" r="3.8" fill="none" stroke="#e8141c" stroke-width="1.5"/><circle cx="491.5" cy="638.03" r="3.8" fill="none" stroke="#e8141c" stroke-width="1.5"/><circle cx="511.55" cy="638.03" r="3.8" fill="none" stroke="#e8141c" stroke-width="1.5"/><circle cx="531.6" cy="638.03" r="3.8" fill="none" stroke="#e8141c" stroke-width="1.5"/>
<path d="M150.65 831.4L170.7 638.03L190.75 831.4M210.8 831.4L230.85 638.03L250.9 638.03L270.95 831.4L291 679.93L311.05 831.4L331.1 781.68L351.15 781.68L371.2 654.38L391.25 638.03L411.3 638.03L431.35 746.23L451.4 831.4L471.45 638.03L491.5 638.03L511.55 781.68L531.6 711.01" fill="none" stroke="#f99a45" stroke-width="1.5" stroke-linejoin="round"/>
<path d="M70.45 826.8v9.2M65.85 831.4h9.2M67.15 828.1l6.6 6.6M67.15 834.7l6.6 -6.6" stroke="#f99a45" stroke-width="1.3" fill="none"/><path d="M90.5 826.8v9.2M85.9 831.4h9.2M87.2 828.1l6.6 6.6M87.2 834.7l6.6 -6.6" stroke="#f99a45" stroke-width="1.3" fill="none"/><path d="M110.55 826.8v9.2M105.95 831.4h9.2M107.25 828.1l6.6 6.6M107.25 834.7l6.6 -6.6" stroke="#f99a45" stroke-width="1.3" fill="none"/><path d="M130.6 826.8v9.2M126 831.4h9.2M127.3 828.1l6.6 6.6M127.3 834.7l6.6 -6.6" stroke="#f99a45" stroke-width="1.3" fill="none"/><path d="M150.65 826.8v9.2M146.05 831.4h9.2M147.35 828.1l6.6 6.6M147.35 834.7l6.6 -6.6" stroke="#f99a45" stroke-width="1.3" fill="none"/><path d="M170.7 633.43v9.2M166.1 638.03h9.2M167.4 634.73l6.6 6.6M167.4 641.33l6.6 -6.6" stroke="#f99a45" stroke-width="1.3" fill="none"/><path d="M190.75 826.8v9.2M186.15 831.4h9.2M187.45 828.1l6.6 6.6M187.45 834.7l6.6 -6.6" stroke="#f99a45" stroke-width="1.3" fill="none"/><path d="M210.8 826.8v9.2M206.2 831.4h9.2M207.5 828.1l6.6 6.6M207.5 834.7l6.6 -6.6" stroke="#f99a45" stroke-width="1.3" fill="none"/><path d="M230.85 633.43v9.2M226.25 638.03h9.2M227.55 634.73l6.6 6.6M227.55 641.33l6.6 -6.6" stroke="#f99a45" stroke-width="1.3" fill="none"/><path d="M250.9 633.43v9.2M246.3 638.03h9.2M247.6 634.73l6.6 6.6M247.6 641.33l6.6 -6.6" stroke="#f99a45" stroke-width="1.3" fill="none"/><path d="M270.95 826.8v9.2M266.35 831.4h9.2M267.65 828.1l6.6 6.6M267.65 834.7l6.6 -6.6" stroke="#f99a45" stroke-width="1.3" fill="none"/><path d="M291 675.33v9.2M286.4 679.93h9.2M287.7 676.63l6.6 6.6M287.7 683.23l6.6 -6.6" stroke="#f99a45" stroke-width="1.3" fill="none"/><path d="M311.05 826.8v9.2M306.45 831.4h9.2M307.75 828.1l6.6 6.6M307.75 834.7l6.6 -6.6" stroke="#f99a45" stroke-width="1.3" fill="none"/><path d="M331.1 777.08v9.2M326.5 781.68h9.2M327.8 778.38l6.6 6.6M327.8 784.98l6.6 -6.6" stroke="#f99a45" stroke-width="1.3" fill="none"/><path d="M351.15 777.08v9.2M346.55 781.68h9.2M347.85 778.38l6.6 6.6M347.85 784.98l6.6 -6.6" stroke="#f99a45" stroke-width="1.3" fill="none"/><path d="M371.2 649.78v9.2M366.6 654.38h9.2M367.9 651.08l6.6 6.6M367.9 657.68l6.6 -6.6" stroke="#f99a45" stroke-width="1.3" fill="none"/><path d="M391.25 633.43v9.2M386.65 638.03h9.2M387.95 634.73l6.6 6.6M387.95 641.33l6.6 -6.6" stroke="#f99a45" stroke-width="1.3" fill="none"/><path d="M411.3 633.43v9.2M406.7 638.03h9.2M408 634.73l6.6 6.6M408 641.33l6.6 -6.6" stroke="#f99a45" stroke-width="1.3" fill="none"/><path d="M431.35 741.63v9.2M426.75 746.23h9.2M428.05 742.93l6.6 6.6M428.05 749.53l6.6 -6.6" stroke="#f99a45" stroke-width="1.3" fill="none"/><path d="M451.4 826.8v9.2M446.8 831.4h9.2M448.1 828.1l6.6 6.6M448.1 834.7l6.6 -6.6" stroke="#f99a45" stroke-width="1.3" fill="none"/><path d="M471.45 633.43v9.2M466.85 638.03h9.2M468.15 634.73l6.6 6.6M468.15 641.33l6.6 -6.6" stroke="#f99a45" stroke-width="1.3" fill="none"/><path d="M491.5 633.43v9.2M486.9 638.03h9.2M488.2 634.73l6.6 6.6M488.2 641.33l6.6 -6.6" stroke="#f99a45" stroke-width="1.3" fill="none"/><path d="M511.55 777.08v9.2M506.95 781.68h9.2M508.25 778.38l6.6 6.6M508.25 784.98l6.6 -6.6" stroke="#f99a45" stroke-width="1.3" fill="none"/><path d="M531.6 706.41v9.2M527 711.01h9.2M528.3 707.71l6.6 6.6M528.3 714.31l6.6 -6.6" stroke="#f99a45" stroke-width="1.3" fill="none"/>
<path d="M70.45 831.4L90.5 831.4L110.55 831.4L130.6 831.4L150.65 831.4L170.7 831.4L190.75 831.4L210.8 831.4L230.85 711.01L250.9 831.4L270.95 831.4L291 638.03L311.05 730.8L331.1 638.03L351.15 638.03L371.2 638.03L391.25 770.63L411.3 786.05L431.35 638.03L451.4 715.61L471.45 781.68L491.5 831.4L511.55 638.03L531.6 638.03" fill="none" stroke="#0d42ee" stroke-width="1.5" stroke-linejoin="round"/>
<path d="M65.35 831.4h10.2M70.45 826.3v10.2" stroke="#0d42ee" stroke-width="1.5" fill="none"/><path d="M85.4 831.4h10.2M90.5 826.3v10.2" stroke="#0d42ee" stroke-width="1.5" fill="none"/><path d="M105.45 831.4h10.2M110.55 826.3v10.2" stroke="#0d42ee" stroke-width="1.5" fill="none"/><path d="M125.5 831.4h10.2M130.6 826.3v10.2" stroke="#0d42ee" stroke-width="1.5" fill="none"/><path d="M145.55 831.4h10.2M150.65 826.3v10.2" stroke="#0d42ee" stroke-width="1.5" fill="none"/><path d="M165.6 831.4h10.2M170.7 826.3v10.2" stroke="#0d42ee" stroke-width="1.5" fill="none"/><path d="M185.65 831.4h10.2M190.75 826.3v10.2" stroke="#0d42ee" stroke-width="1.5" fill="none"/><path d="M205.7 831.4h10.2M210.8 826.3v10.2" stroke="#0d42ee" stroke-width="1.5" fill="none"/><path d="M225.75 711.01h10.2M230.85 705.91v10.2" stroke="#0d42ee" stroke-width="1.5" fill="none"/><path d="M245.8 831.4h10.2M250.9 826.3v10.2" stroke="#0d42ee" stroke-width="1.5" fill="none"/><path d="M265.85 831.4h10.2M270.95 826.3v10.2" stroke="#0d42ee" stroke-width="1.5" fill="none"/><path d="M285.9 638.03h10.2M291 632.93v10.2" stroke="#0d42ee" stroke-width="1.5" fill="none"/><path d="M305.95 730.8h10.2M311.05 725.7v10.2" stroke="#0d42ee" stroke-width="1.5" fill="none"/><path d="M326 638.03h10.2M331.1 632.93v10.2" stroke="#0d42ee" stroke-width="1.5" fill="none"/><path d="M346.05 638.03h10.2M351.15 632.93v10.2" stroke="#0d42ee" stroke-width="1.5" fill="none"/><path d="M366.1 638.03h10.2M371.2 632.93v10.2" stroke="#0d42ee" stroke-width="1.5" fill="none"/><path d="M386.15 770.63h10.2M391.25 765.53v10.2" stroke="#0d42ee" stroke-width="1.5" fill="none"/><path d="M406.2 786.05h10.2M411.3 780.95v10.2" stroke="#0d42ee" stroke-width="1.5" fill="none"/><path d="M426.25 638.03h10.2M431.35 632.93v10.2" stroke="#0d42ee" stroke-width="1.5" fill="none"/><path d="M446.3 715.61h10.2M451.4 710.51v10.2" stroke="#0d42ee" stroke-width="1.5" fill="none"/><path d="M466.35 781.68h10.2M471.45 776.58v10.2" stroke="#0d42ee" stroke-width="1.5" fill="none"/><path d="M486.4 831.4h10.2M491.5 826.3v10.2" stroke="#0d42ee" stroke-width="1.5" fill="none"/><path d="M506.45 638.03h10.2M511.55 632.93v10.2" stroke="#0d42ee" stroke-width="1.5" fill="none"/><path d="M526.5 638.03h10.2M531.6 632.93v10.2" stroke="#0d42ee" stroke-width="1.5" fill="none"/>
<text x="52.4" y="792.56" text-anchor="end" font-size="18.4" fill="#333333">20</text>
<text x="52.4" y="746.52" text-anchor="end" font-size="18.4" fill="#333333">40</text>
<text x="52.4" y="700.48" text-anchor="end" font-size="18.4" fill="#333333">60</text>
<text x="52.4" y="654.44" text-anchor="end" font-size="18.4" fill="#333333">80</text>
<text x="54.3" y="608.4" text-anchor="end" font-size="18.4" fill="#333333">100</text>
<text transform="translate(72.95 843.2) rotate(-45)" text-anchor="middle" dominant-baseline="central" font-size="11" font-family="Liberation Sans, Arial, sans-serif" fill="#333333" stroke="#333333" stroke-width="0.35">1</text>
<text transform="translate(93 843.2) rotate(-45)" text-anchor="middle" dominant-baseline="central" font-size="11" font-family="Liberation Sans, Arial, sans-serif" fill="#333333" stroke="#333333" stroke-width="0.35">2</text>
<text transform="translate(113.05 843.2) rotate(-45)" text-anchor="middle" dominant-baseline="central" font-size="11" font-family="Liberation Sans, Arial, sans-serif" fill="#333333" stroke="#333333" stroke-width="0.35">3</text>
<text transform="translate(133.1 843.2) rotate(-45)" text-anchor="middle" dominant-baseline="central" font-size="11" font-family="Liberation Sans, Arial, sans-serif" fill="#333333" stroke="#333333" stroke-width="0.35">4</text>
<text transform="translate(153.15 843.2) rotate(-45)" text-anchor="middle" dominant-baseline="central" font-size="11" font-family="Liberation Sans, Arial, sans-serif" fill="#333333" stroke="#333333" stroke-width="0.35">5</text>
<text transform="translate(173.2 843.2) rotate(-45)" text-anchor="middle" dominant-baseline="central" font-size="11" font-family="Liberation Sans, Arial, sans-serif" fill="#333333" stroke="#333333" stroke-width="0.35">6</text>
<text transform="translate(193.25 843.2) rotate(-45)" text-anchor="middle" dominant-baseline="central" font-size="11" font-family="Liberation Sans, Arial, sans-serif" fill="#333333" stroke="#333333" stroke-width="0.35">7</text>
<text transform="translate(213.3 843.2) rotate(-45)" text-anchor="middle" dominant-baseline="central" font-size="11" font-family="Liberation Sans, Arial, sans-serif" fill="#333333" stroke="#333333" stroke-width="0.35">8</text>
<text transform="translate(233.35 843.2) rotate(-45)" text-anchor="middle" dominant-baseline="central" font-size="11" font-family="Liberation Sans, Arial, sans-serif" fill="#333333" stroke="#333333" stroke-width="0.35">9</text>
<text transform="translate(253.4 843.2) rotate(-45)" text-anchor="middle" dominant-baseline="central" font-size="11" font-family="Liberation Sans, Arial, sans-serif" fill="#333333" stroke="#333333" stroke-width="0.35">10</text>
<text transform="translate(273.45 843.2) rotate(-45)" text-anchor="middle" dominant-baseline="central" font-size="11" font-family="Liberation Sans, Arial, sans-serif" fill="#333333" stroke="#333333" stroke-width="0.35">11</text>
<text transform="translate(293.5 843.2) rotate(-45)" text-anchor="middle" dominant-baseline="central" font-size="11" font-family="Liberation Sans, Arial, sans-serif" fill="#333333" stroke="#333333" stroke-width="0.35">12</text>
<text transform="translate(313.55 843.2) rotate(-45)" text-anchor="middle" dominant-baseline="central" font-size="11" font-family="Liberation Sans, Arial, sans-serif" fill="#333333" stroke="#333333" stroke-width="0.35">13</text>
<text transform="translate(333.6 843.2) rotate(-45)" text-anchor="middle" dominant-baseline="central" font-size="11" font-family="Liberation Sans, Arial, sans-serif" fill="#333333" stroke="#333333" stroke-width="0.35">14</text>
<text transform="translate(353.65 843.2) rotate(-45)" text-anchor="middle" dominant-baseline="central" font-size="11" font-family="Liberation Sans, Arial, sans-serif" fill="#333333" stroke="#333333" stroke-width="0.35">15</text>
<text transform="translate(373.7 843.2) rotate(-45)" text-anchor="middle" dominant-baseline="central" font-size="11" font-family="Liberation Sans, Arial, sans-serif" fill="#333333" stroke="#333333" stroke-width="0.35">16</text>
<text transform="translate(393.75 843.2) rotate(-45)" text-anchor="middle" dominant-baseline="central" font-size="11" font-family="Liberation Sans, Arial, sans-serif" fill="#333333" stroke="#333333" stroke-width="0.35">17</text>
<text transform="translate(413.8 843.2) rotate(-45)" text-anchor="middle" dominant-baseline="central" font-size="11" font-family="Liberation Sans, Arial, sans-serif" fill="#333333" stroke="#333333" stroke-width="0.35">18</text>
<text transform="translate(433.85 843.2) rotate(-45)" text-anchor="middle" dominant-baseline="central" font-size="11" font-family="Liberation Sans, Arial, sans-serif" fill="#333333" stroke="#333333" stroke-width="0.35">19</text>
<text transform="translate(453.9 843.2) rotate(-45)" text-anchor="middle" dominant-baseline="central" font-size="11" font-family="Liberation Sans, Arial, sans-serif" fill="#333333" stroke="#333333" stroke-width="0.35">20</text>
<text transform="translate(473.95 843.2) rotate(-45)" text-anchor="middle" dominant-baseline="central" font-size="11" font-family="Liberation Sans, Arial, sans-serif" fill="#333333" stroke="#333333" stroke-width="0.35">21</text>
<text transform="translate(494 843.2) rotate(-45)" text-anchor="middle" dominant-baseline="central" font-size="11" font-family="Liberation Sans, Arial, sans-serif" fill="#333333" stroke="#333333" stroke-width="0.35">22</text>
<text transform="translate(514.05 843.2) rotate(-45)" text-anchor="middle" dominant-baseline="central" font-size="11" font-family="Liberation Sans, Arial, sans-serif" fill="#333333" stroke="#333333" stroke-width="0.35">23</text>
<text transform="translate(534.1 843.2) rotate(-45)" text-anchor="middle" dominant-baseline="central" font-size="11" font-family="Liberation Sans, Arial, sans-serif" fill="#333333" stroke="#333333" stroke-width="0.35">24</text>
<line x1="78.3" y1="619.2" x2="126.3" y2="619.2" stroke="#e8141c" stroke-width="1.5"/>
<circle cx="102.3" cy="619.2" r="3.8" fill="none" stroke="#e8141c" stroke-width="1.5"/>
<text x="127.8" y="623.8" font-size="14.8" fill="#141414" stroke="#141414" stroke-width="0.12">Unit 1</text>
<line x1="78.3" y1="638.8" x2="126.3" y2="638.8" stroke="#f99a45" stroke-width="1.5"/>
<path d="M102.3 634.2v9.2M97.7 638.8h9.2M99 635.5l6.6 6.6M99 642.1l6.6 -6.6" stroke="#f99a45" stroke-width="1.3" fill="none"/>
<text x="127.8" y="643.4" font-size="14.8" fill="#141414" stroke="#141414" stroke-width="0.12">Unit 2</text>
<line x1="78.3" y1="659.5" x2="126.3" y2="659.5" stroke="#0d42ee" stroke-width="1.5"/>
<path d="M97.2 659.5h10.2M102.3 654.4v10.2" stroke="#0d42ee" stroke-width="1.5" fill="none"/>
<text x="127.8" y="664.1" font-size="14.8" fill="#141414" stroke="#141414" stroke-width="0.12">Unit 3</text>
<text transform="translate(19.6 758.5) rotate(-90)" font-size="18.5" fill="#333333"><tspan letter-spacing="-0.35">Output</tspan><tspan dx="4.0" dy="3.6" font-size="19">/</tspan><tspan dx="7.0" dy="-1" font-size="16.6">M</tspan><tspan dx="2.4" font-size="16.6">W</tspan></text>
<text x="274" y="278" text-anchor="middle" font-size="16" fill="#1a1a1a">(<tspan font-weight="bold">a</tspan>)</text>
<text x="289.5" y="563.3" text-anchor="middle" font-size="17.5" fill="#333333">Time /h</text>
<text x="274" y="585.5" text-anchor="middle" font-size="16" fill="#1a1a1a">(<tspan font-weight="bold">b</tspan>)</text>
<text x="327.5" y="870.9" text-anchor="middle" font-size="17.5" fill="#333333">Time /h</text>
<text x="274" y="893" text-anchor="middle" font-size="16" fill="#1a1a1a">(<tspan font-weight="bold">c</tspan>)</text>
</svg>
</body></html>
